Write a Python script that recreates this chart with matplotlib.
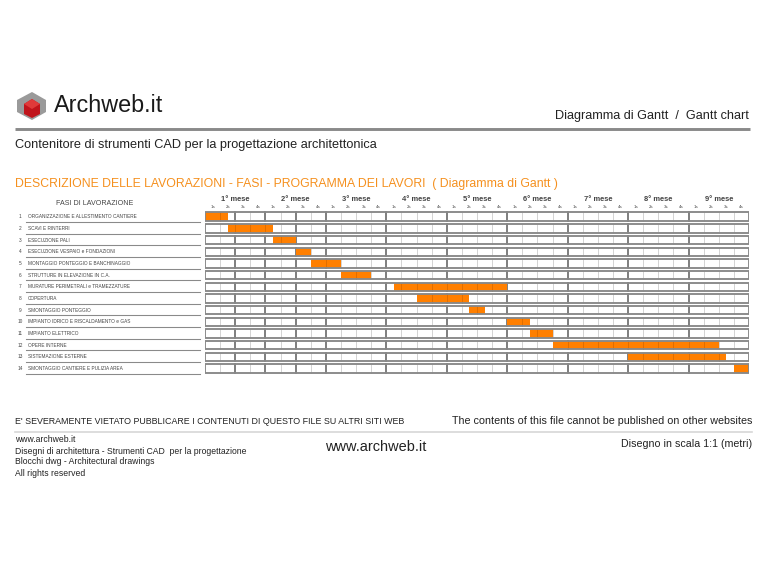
import numpy as np
import matplotlib
matplotlib.use('Agg')
import matplotlib.pyplot as plt
from matplotlib.patches import Polygon, Rectangle
from matplotlib.transforms import blended_transform_factory

plt.rcParams['font.family'] = ['Liberation Sans', 'DejaVu Sans']

# phases of work (Italian labels as in the drawing)
phases = ['ORGANIZZAZIONE E ALLESTIMENTO CANTIERE', 'SCAVI E RINTERRI', 'ESECUZIONE PALI',
          'ESECUZIONE VESPAIO e FONDAZIONI', 'MONTAGGIO PONTEGGIO E BANCHINAGGIO',
          'STRUTTURE IN ELEVAZIONE IN C.A.', 'MURATURE PERIMETRALI e TRAMEZZATURE',
          'COPERTURA', 'SMONTAGGIO PONTEGGIO', 'IMPIANTO IDRICO E RISCALDAMENTO e GAS',
          'IMPIANTO ELETTRICO', 'OPERE INTERNE', 'SISTEMAZIONE ESTERNE',
          'SMONTAGGIO CANTIERE E PULIZIA AREA']
# start / end in weeks from the beginning of the works
start_wk = [0, 1.5, 4.5, 6, 7, 9, 12.5, 14, 17.5, 20, 21.5, 23, 28, 35]
end_wk = [1.5, 4.5, 6, 7, 9, 11, 20, 17.5, 18.5, 21.5, 23, 34, 34.5, 36]
months = ['1° mese', '2° mese', '3° mese', '4° mese', '5° mese', '6° mese',
          '7° mese', '8° mese', '9° mese']
weeks = ['1s', '2s', '3s', '4s']
heavy_lines = [2, 4, 6, 8, 12, 16, 20, 24, 28, 32]

W, H = 768, 576
fig = plt.figure(figsize=(W / 96, H / 96), dpi=96)
bg = fig.add_axes([0, 0, 1, 1])
bg.set_xlim(0, W)
bg.set_ylim(H, 0)
bg.axis('off')

orange = '#ff7f00'
txt = '#222222'

# logo
hexagon = [(17, 100), (32, 92), (46, 100), (46, 112), (32, 120), (17, 112)]
bg.add_patch(Polygon(hexagon, closed=True, fc='#9a9a9a', ec='none'))
cube = [(24, 104), (32, 99), (40, 104), (40, 114), (32, 118), (24, 114)]
bg.add_patch(Polygon(cube, closed=True, fc='#c0141b', ec='none'))
bg.add_patch(Polygon([(24, 104), (32, 99), (40, 104), (32, 109)], closed=True,
                     fc='#e03a3a', ec='none'))
bg.text(54, 106, 'Archweb.it', fontsize=17.5, color='#1a1a1a', va='center', ha='left')

bg.text(749, 116, 'Diagramma di Gantt  /  Gantt chart', fontsize=9.5, color=txt,
        ha='right', va='center')
bg.plot([15, 750], [129, 129], color='#8a8a8a', lw=2.2, solid_capstyle='butt')
bg.text(15, 145, 'Contenitore di strumenti CAD per la progettazione architettonica',
        fontsize=9.55, color=txt, ha='left', va='center')
bg.text(15, 184, 'DESCRIZIONE DELLE LAVORAZIONI - FASI - PROGRAMMA DEI LAVORI  ( Diagramma di Gantt )',
        fontsize=9.2, color='#f5901e', ha='left', va='center')

# footer
bg.text(15, 421, "E' SEVERAMENTE VIETATO PUBBLICARE I CONTENUTI DI QUESTO FILE SU ALTRI SITI WEB",
        fontsize=6.7, color=txt, ha='left', va='center')
bg.text(752, 421, 'The contents of this file cannot be published on other websites',
        fontsize=8.1, color=txt, ha='right', va='center')
bg.plot([15, 752], [432, 432], color='#d5d5d5', lw=1.2)
for i, line in enumerate(['www.archweb.it',
                          'Disegni di architettura - Strumenti CAD  per la progettazione',
                          'Blocchi dwg - Architectural drawings', 'All rights reserved']):
    bg.text(15, 440 + i * 11, line, fontsize=6.45, color=txt, ha='left', va='center')
bg.text(325, 447, 'www.archweb.it', fontsize=10.9, color=txt, ha='left', va='center')
bg.text(752, 444, 'Disegno in scala 1:1 (metri)', fontsize=8.0, color=txt, ha='right', va='center')

# gantt grid axes: x in weeks, y in rows
n = len(phases)
nweeks = 4 * len(months)
row_h = 11.67
y0 = 216.7 - row_h / 2
gx0, gx1 = 205, 749
ax = fig.add_axes([gx0 / W, 1 - (y0 + n * row_h) / H, (gx1 - gx0) / W, n * row_h / H])
ax.set_xlim(0, nweeks)
ax.set_ylim(n - 0.5, -0.5)
ax.axis('off')
ax.patch.set_alpha(0)

box_h = 0.72
for r in range(n):
    ax.add_patch(Rectangle((0, r - box_h / 2), nweeks, box_h, fc='white', ec='none', zorder=1))
    for w in range(1, nweeks):
        if w in heavy_lines:
            ax.plot([w, w], [r - box_h / 2, r + box_h / 2], color='#6e6e6e', lw=1.3, zorder=2)
        else:
            ax.plot([w, w], [r - box_h / 2, r + box_h / 2], color='#bdbdbd', lw=0.6,
                    alpha=0.8, zorder=2)
    ax.barh(r, end_wk[r] - start_wk[r], left=start_wk[r], height=box_h,
            color=orange, zorder=3)
    # faint week divisions still visible through the bars
    for w in range(int(np.ceil(start_wk[r])), int(np.floor(end_wk[r])) + 1):
        if start_wk[r] < w < end_wk[r]:
            ax.plot([w, w], [r - box_h / 2, r + box_h / 2], color='#d96a00', lw=0.6, zorder=3.5)
    ax.add_patch(Rectangle((0, r - box_h / 2), nweeks, box_h, fc='none', ec='#888888',
                           lw=1.4, zorder=4))

# month and week headers
for m, name in enumerate(months):
    ax.text(m * 4 + 2, -1.45, name, fontsize=5.6, color='#444444', ha='center',
            va='center', fontweight='bold', clip_on=False)
    for k, wk in enumerate(weeks):
        ax.text(m * 4 + k + 0.5, -0.85, wk, fontsize=3.3, color='#444444', ha='center',
                va='center', clip_on=False)

# row labels
tr = blended_transform_factory(bg.transData, ax.transData)
ax.text(95, -1.1, 'FASI DI LAVORAZIONE', fontsize=5.3, color='#444444', ha='center',
        va='center', transform=tr, clip_on=False)
for r, name in enumerate(phases):
    ax.text(20, r, str(r + 1), fontsize=3.6, color='#444444', ha='center', va='center',
            transform=tr, clip_on=False)
    ax.text(28, r, name, fontsize=3.6, color='#444444', ha='left', va='center',
            transform=tr, clip_on=False)
    ax.plot([26, 200], [r + 0.45, r + 0.45], color='#8a8a8a', lw=0.8, transform=tr,
            clip_on=False)

fig.savefig('out.png', dpi=96)
